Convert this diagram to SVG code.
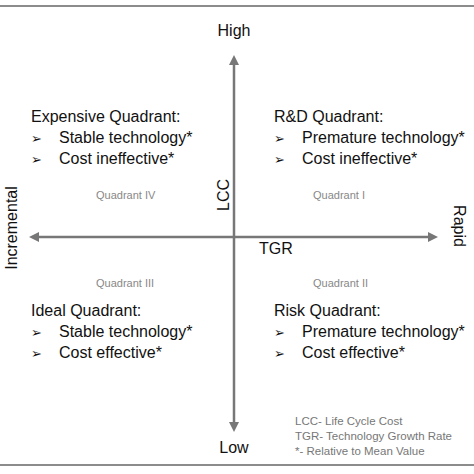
<svg xmlns="http://www.w3.org/2000/svg" width="474" height="474" viewBox="0 0 474 474">
<style>
text{font-family:"Liberation Sans",Arial,sans-serif;fill:#111}
.h{font-size:16px}
.b{font-size:13px}
.q{font-size:11px;fill:#888}
.l{font-size:11.5px;fill:#777}
.ax{stroke:#777;stroke-width:2.5;fill:none}
</style>
<defs><marker id="ar" viewBox="0 0 10 10" refX="5" refY="5" markerWidth="4" markerHeight="4" orient="auto"><path d="M0,0L10,5L0,10z" fill="#777"/></marker></defs>
<rect width="474" height="474" fill="#fff"/>
<line x1="0" y1="6" x2="474" y2="6" stroke="#666" stroke-width="1.5"/>
<line x1="0" y1="465" x2="474" y2="465" stroke="#666" stroke-width="1.5"/>
<g id="connectors">
<line class="ax" x1="234" y1="237" x2="234" y2="60" marker-end="url(#ar)"/>
<line class="ax" x1="234" y1="237" x2="234" y2="427" marker-end="url(#ar)"/>
<line class="ax" x1="234" y1="237" x2="34" y2="237" marker-end="url(#ar)"/>
<line class="ax" x1="234" y1="237" x2="433" y2="237" marker-end="url(#ar)"/>
</g>
<g id="labels">
<text class="h" x="234" y="36" text-anchor="middle">High</text>
<text class="h" x="234" y="453" text-anchor="middle">Low</text>
<text class="h" x="259" y="254">TGR</text>
<text class="h" transform="translate(229,195) rotate(-90)" text-anchor="middle">LCC</text>
<text class="h" transform="translate(17,228) rotate(-90)" text-anchor="middle">Incremental</text>
<text class="h" transform="translate(454,226) rotate(90)" text-anchor="middle">Rapid</text>
</g>
<g id="q4">
<text class="h" x="31" y="122">Expensive Quadrant:</text>
<text class="b" x="31" y="143">➢</text><text class="h" x="59" y="143">Stable technology*</text>
<text class="b" x="31" y="164">➢</text><text class="h" x="59" y="164">Cost ineffective*</text>
<text class="q" x="96" y="199">Quadrant IV</text>
</g>
<g id="q1">
<text class="h" x="274" y="122">R&amp;D Quadrant:</text>
<text class="b" x="274" y="143">➢</text><text class="h" x="302" y="143">Premature technology*</text>
<text class="b" x="274" y="164">➢</text><text class="h" x="302" y="164">Cost ineffective*</text>
<text class="q" x="313" y="199">Quadrant  I</text>
</g>
<g id="q3">
<text class="q" x="96" y="287">Quadrant III</text>
<text class="h" x="31" y="316">Ideal Quadrant:</text>
<text class="b" x="31" y="337">➢</text><text class="h" x="59" y="337">Stable technology*</text>
<text class="b" x="31" y="358">➢</text><text class="h" x="59" y="358">Cost effective*</text>
</g>
<g id="q2">
<text class="q" x="313" y="287">Quadrant  II</text>
<text class="h" x="274" y="316">Risk Quadrant:</text>
<text class="b" x="274" y="337">➢</text><text class="h" x="302" y="337">Premature technology*</text>
<text class="b" x="274" y="358">➢</text><text class="h" x="302" y="358">Cost effective*</text>
</g>
<g id="legend">
<text class="l" x="295" y="425">LCC- Life Cycle Cost</text>
<text class="l" x="295" y="440">TGR- Technology Growth Rate</text>
<text class="l" x="295" y="455">*- Relative to Mean Value</text>
</g>
</svg>
